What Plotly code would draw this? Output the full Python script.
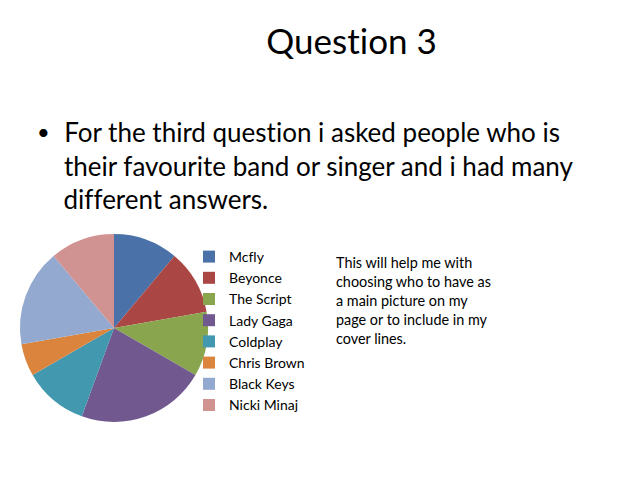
import plotly.graph_objects as go

W, H = 638, 478

artists = ["Mcfly", "Beyonce", "The Script", "Lady Gaga", "Coldplay",
           "Chris Brown", "Black Keys", "Nicki Minaj"]
votes = [2, 2, 2, 4, 2, 1, 3, 2]
colors = ["#4A72A8", "#AA4644", "#89A54E", "#71588F", "#4198AF",
          "#DB843D", "#93A9CF", "#D19392"]

title_text = "Question 3"
bullet_lines = ["For the third question i asked people who is",
                "their favourite band or singer and i had many",
                "different answers."]
note_lines = ["This will help me with", "choosing who to have as",
              "a main picture on my", "page or to include in my",
              "cover lines."]

FONT = "Lato"

def px(x):
    return x / W

def py(y):
    return 1 - y / H

fig = go.Figure()
fig.add_trace(go.Pie(
    labels=artists, values=votes, sort=False, direction="clockwise",
    rotation=0, textinfo="none", hoverinfo="label+value",
    marker=dict(colors=colors, line=dict(width=0)),
    domain=dict(x=[px(20), px(208)], y=[py(422), py(234)]),
))

annotations = [
    dict(text=title_text, x=px(351.5), y=py(40), xanchor="center", yanchor="middle",
         font=dict(size=35, color="#000000", family=FONT)),
    dict(text="•", x=px(43), y=py(132), xanchor="center", yanchor="middle",
         font=dict(size=22, color="#000000", family=FONT)),
]
for i, line in enumerate(bullet_lines):
    annotations.append(dict(text=line, x=px(62), y=py(132 + i * 33.5),
                            xanchor="left", yanchor="middle",
                            font=dict(size=26, color="#000000", family=FONT)))
for i, line in enumerate(note_lines):
    annotations.append(dict(text=line, x=px(334), y=py(262 + i * 19),
                            xanchor="left", yanchor="middle",
                            font=dict(size=14.4, color="#000000", family=FONT)))
for a in annotations:
    a.update(xref="paper", yref="paper", showarrow=False)

fig.update_layout(
    width=W, height=H, margin=dict(l=0, r=0, t=0, b=0),
    paper_bgcolor="#FFFFFF", plot_bgcolor="#FFFFFF",
    showlegend=True,
    legend=dict(x=px(189), y=py(241), xanchor="left", yanchor="top",
                font=dict(size=14, color="#000000", family=FONT),
                bgcolor="rgba(0,0,0,0)", itemclick=False),
    annotations=annotations,
)

fig.write_html(
    "out.html",
    config={"displayModeBar": False},
    post_script=(
        "document.body.style.margin='0';"
        "var s=document.createElement('style');"
        "s.textContent='text{font-variant-ligatures:none !important;"
        "font-feature-settings:\"liga\" 0,\"clig\" 0 !important;}';"
        "document.head.appendChild(s);"
    ),
)
